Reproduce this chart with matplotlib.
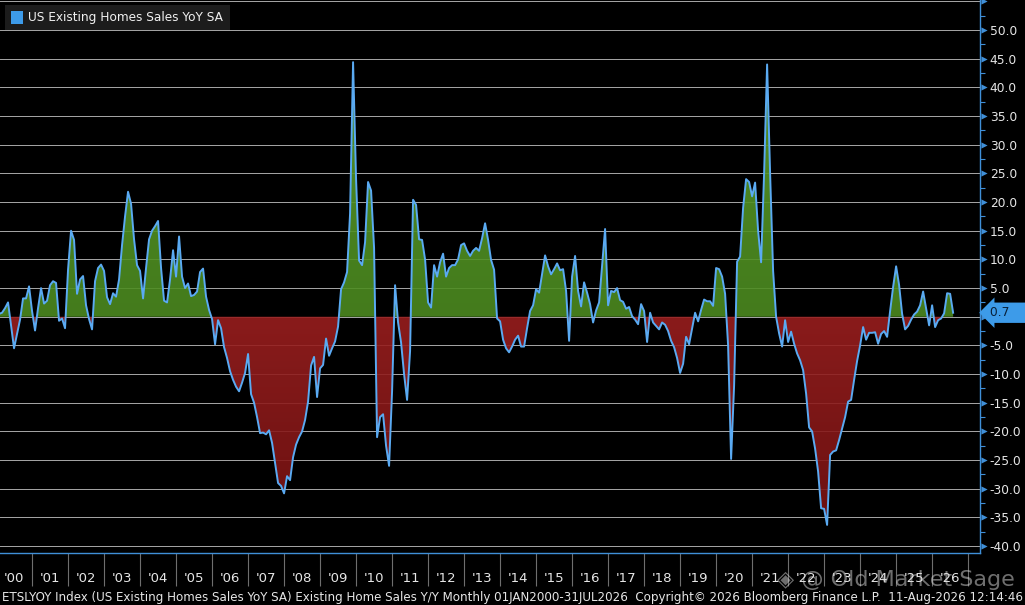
import numpy as np
import matplotlib
matplotlib.use("Agg")
import matplotlib.pyplot as plt
import matplotlib.transforms as mtransforms
from matplotlib.path import Path
from matplotlib.colors import LinearSegmentedColormap

# US Existing Homes Sales YoY SA (%), monthly Jan 2000 - Jul 2026
y2000 = [0.5, 0.7, 1.5, 2.5, -1.5, -5.5, -3.0, -0.5, 3.2, 3.2, 5.3, 1.0]
y2001 = [-2.4, 1.5, 5.0, 2.3, 2.8, 5.5, 6.2, 5.9, -0.7, -0.3, -2.0, 8.2]
y2002 = [15.0, 13.4, 4.0, 6.5, 7.1, 2.0, -0.4, -2.2, 6.2, 8.5, 9.1, 8.0]
y2003 = [3.4, 2.2, 4.1, 3.5, 6.5, 12.5, 17.5, 21.8, 19.7, 13.5, 9.0, 8.0]
y2004 = [3.2, 8.5, 13.5, 15.0, 15.8, 16.7, 8.5, 2.8, 2.5, 6.5, 11.6, 7.0]
y2005 = [14.0, 7.0, 5.0, 5.8, 3.6, 3.8, 4.4, 7.8, 8.4, 3.5, 1.2, -0.4]
y2006 = [-4.8, -0.6, -2.0, -5.3, -7.2, -9.5, -11.0, -12.2, -13.0, -11.5, -9.8, -6.5]
y2007 = [-13.5, -15.0, -17.5, -20.3, -20.2, -20.5, -19.8, -22.0, -25.5, -29.0, -29.5, -30.8]
y2008 = [-27.8, -28.5, -24.5, -22.3, -21.0, -20.0, -18.0, -14.8, -8.5, -7.0, -14.0, -9.0]
y2009 = [-8.4, -3.8, -6.8, -5.5, -4.3, -1.7, 4.8, 6.0, 7.8, 18.0, 44.4, 24.0]
y2010 = [9.8, 9.0, 13.0, 23.5, 22.0, 12.0, -21.0, -17.5, -17.0, -22.5, -26.0, -13.0]
y2011 = [5.5, -1.0, -4.5, -10.0, -14.5, -6.0, 20.4, 19.5, 13.5, 13.4, 10.0, 2.5]
y2012 = [1.6, 9.0, 7.0, 9.5, 11.0, 7.0, 8.5, 9.0, 9.0, 10.0, 12.5, 12.8]
y2013 = [11.5, 10.6, 11.5, 12.0, 11.5, 13.7, 16.3, 13.4, 9.9, 8.2, -0.3, -0.8]
y2014 = [-4.0, -5.5, -6.2, -5.2, -4.0, -3.3, -5.2, -5.2, -2.0, 1.0, 2.0, 4.8]
y2015 = [4.2, 7.5, 10.7, 8.8, 7.4, 8.3, 9.3, 8.1, 8.3, 4.5, -4.2, 7.0]
y2016 = [10.6, 4.5, 1.8, 6.0, 4.2, 2.2, -1.0, 1.1, 2.5, 9.0, 15.3, 2.0]
y2017 = [4.5, 4.3, 5.0, 2.9, 2.6, 1.4, 1.7, 0.1, -0.5, -1.3, 2.2, 1.0]
y2018 = [-4.4, 0.7, -1.0, -1.6, -2.2, -1.0, -1.4, -2.5, -4.2, -5.3, -7.2, -9.8]
y2019 = [-8.2, -3.5, -4.8, -2.0, 0.7, -0.8, 1.2, 3.0, 2.7, 2.7, 1.9, 8.5]
y2020 = [8.3, 7.0, 4.0, -5.0, -24.8, -12.0, 9.6, 10.5, 19.0, 24.0, 23.5, 21.0]
y2021 = [23.4, 15.0, 9.5, 25.0, 44.0, 25.0, 8.0, 0.0, -2.9, -5.2, -0.6, -4.4]
y2022 = [-2.6, -4.7, -6.4, -7.6, -9.3, -13.4, -19.3, -20.0, -23.0, -27.0, -33.4, -33.5]
y2023 = [-36.3, -24.1, -23.5, -23.3, -21.5, -19.5, -17.5, -14.8, -14.5, -11.0, -7.7, -5.0]
y2024 = [-1.8, -4.0, -2.8, -2.8, -2.7, -4.7, -3.0, -2.5, -3.5, 1.0, 5.2, 8.8]
y2025 = [5.5, 0.5, -2.2, -1.6, -0.5, 0.4, 0.9, 2.0, 4.4, 1.5, -1.5, 2.0]
y2026 = [-1.8, -0.6, -0.3, 0.6, 4.1, 4.0, 0.7]

years = list(range(2000, 2027))
year_labels = ["'%02d" % (y % 100) for y in years]
ytick_vals = list(range(-40, 55, 5))

title = "US Existing Homes Sales YoY SA"
footer = ("ETSLYOY Index (US Existing Homes Sales YoY SA) Existing Home Sales Y/Y Monthly "
          "01JAN2000-31JUL2026  Copyright\u00a9 2026 Bloomberg Finance L.P.  11-Aug-2026 12:14:46")

vals = np.array(y2000 + y2001 + y2002 + y2003 + y2004 + y2005 + y2006 + y2007 + y2008
                + y2009 + y2010 + y2011 + y2012 + y2013 + y2014 + y2015 + y2016 + y2017
                + y2018 + y2019 + y2020 + y2021 + y2022 + y2023 + y2024 + y2025 + y2026)
t = 2000 + (np.arange(len(vals)) + 1) / 12.0   # month-end positions

BG = "#000000"
LINE = "#5aaaf2"
AXBLUE = "#3f8fd8"
TAGBLUE = "#3d9be9"
GRID = "#a8a8a8"
W, H = 1025, 605

fig = plt.figure(figsize=(W / 100, H / 100), dpi=100, facecolor=BG)
ax = fig.add_axes([0.0, 1 - 553 / H, 980 / W, 553 / H])
ax.set_facecolor(BG)

# horizontal grid (under the fills, which are slightly see-through)
for v in ytick_vals + [55]:
    ax.axhline(v, color=GRID, lw=0.7, zorder=0.5)

# fills with a soft vertical gradient, clipped to the area under the curve
green = ax.fill_between(t, vals, 0, where=vals >= 0, interpolate=True, facecolor="none", lw=0)
red = ax.fill_between(t, vals, 0, where=vals <= 0, interpolate=True, facecolor="none", lw=0)
gcmap = LinearSegmentedColormap.from_list("g", ["#4c8a20", "#5c9f2a"])
rcmap = LinearSegmentedColormap.from_list("r", ["#761212", "#9a1f1f"])
grad = np.linspace(0, 1, 256).reshape(-1, 1)
for coll, cmap, ext in [(green, gcmap, [2000, 2028, 0, 50]), (red, rcmap, [2000, 2028, -40, 0])]:
    im = ax.imshow(grad, extent=ext, origin="lower", aspect="auto", cmap=cmap, zorder=1, alpha=0.9)
    im.set_clip_path(Path.make_compound_path(*coll.get_paths()), transform=ax.transData)
ax.set_xlim(2000.11, 2027.33)
ax.set_ylim(-41.2, 55.24)

ax.plot(t, vals, color=LINE, lw=1.4, zorder=4, solid_joinstyle="round")

# spines
for s in ["left", "top"]:
    ax.spines[s].set_visible(False)
for s in ["right", "bottom"]:
    ax.spines[s].set_color(AXBLUE)
    ax.spines[s].set_linewidth(1.0)

# x axis: year separators with labels centred in each year
ax.set_xticks([y + 1 for y in years])
ax.set_xticklabels([])
ax.tick_params(axis="x", which="major", direction="out", length=24, width=0.8, color="#6e6e6e")
ax.set_xticks([y + 0.5 for y in years], minor=True)
ax.set_xticklabels(year_labels, minor=True, fontsize=9.5, color="#e6e6e6")
ax.tick_params(axis="x", which="minor", length=0, pad=14)

# y axis on the right
ax.yaxis.tick_right()
ax.set_yticks(ytick_vals + [55])
ax.set_yticklabels(["%.1f" % v for v in ytick_vals] + [""], fontsize=8.8, color="#e6e6e6")
ax.tick_params(axis="y", which="major", length=0, pad=7)
ax.set_yticks(np.arange(-40, 55, 2.5), minor=True)
ax.tick_params(axis="y", which="minor", length=3.5, width=0.8, color=AXBLUE, direction="out")
tri = ax.get_yaxis_transform() + mtransforms.ScaledTranslation(4 / 100, 0, fig.dpi_scale_trans)
ax.scatter([1.0] * len(ytick_vals + [55]), ytick_vals + [55], marker=">", s=20, color=AXBLUE,
           transform=tri, clip_on=False, zorder=5, linewidths=0)

# last value tag
ax.annotate("%.1f    " % vals[-1], xy=(1.0, vals[-1]), xycoords=ax.get_yaxis_transform(),
            xytext=(7.5, 0), textcoords="offset points", va="center", ha="left",
            fontsize=8.8, color="#08213a", annotation_clip=False, zorder=6,
            bbox=dict(boxstyle="larrow,pad=0.3", fc=TAGBLUE, ec="none"))

# legend box
fig.patches.append(plt.Rectangle((5 / W, 1 - 30 / H), 225 / W, 25 / H, transform=fig.transFigure,
                                 fc="#1c1c1c", ec="none", zorder=9))
fig.patches.append(plt.Rectangle((11 / W, 1 - 24 / H), 12 / W, 13 / H, transform=fig.transFigure,
                                 fc=TAGBLUE, ec="none", zorder=10))
fig.text(28 / W, 1 - 18 / H, title, fontsize=8.7, color="#f0f0f0", va="center", ha="left", zorder=11)

fig.text(2 / W, 1 - 601 / H, footer, fontsize=8.6, color="#e6e6e6", ha="left", va="baseline")
fig.text(1015 / W, 1 - 580 / H, "\u25c8 @ Old Market Sage", fontsize=16, color="#dddddd", alpha=0.5,
         ha="right", va="center")

fig.savefig("out.png", dpi=100, facecolor=BG)
